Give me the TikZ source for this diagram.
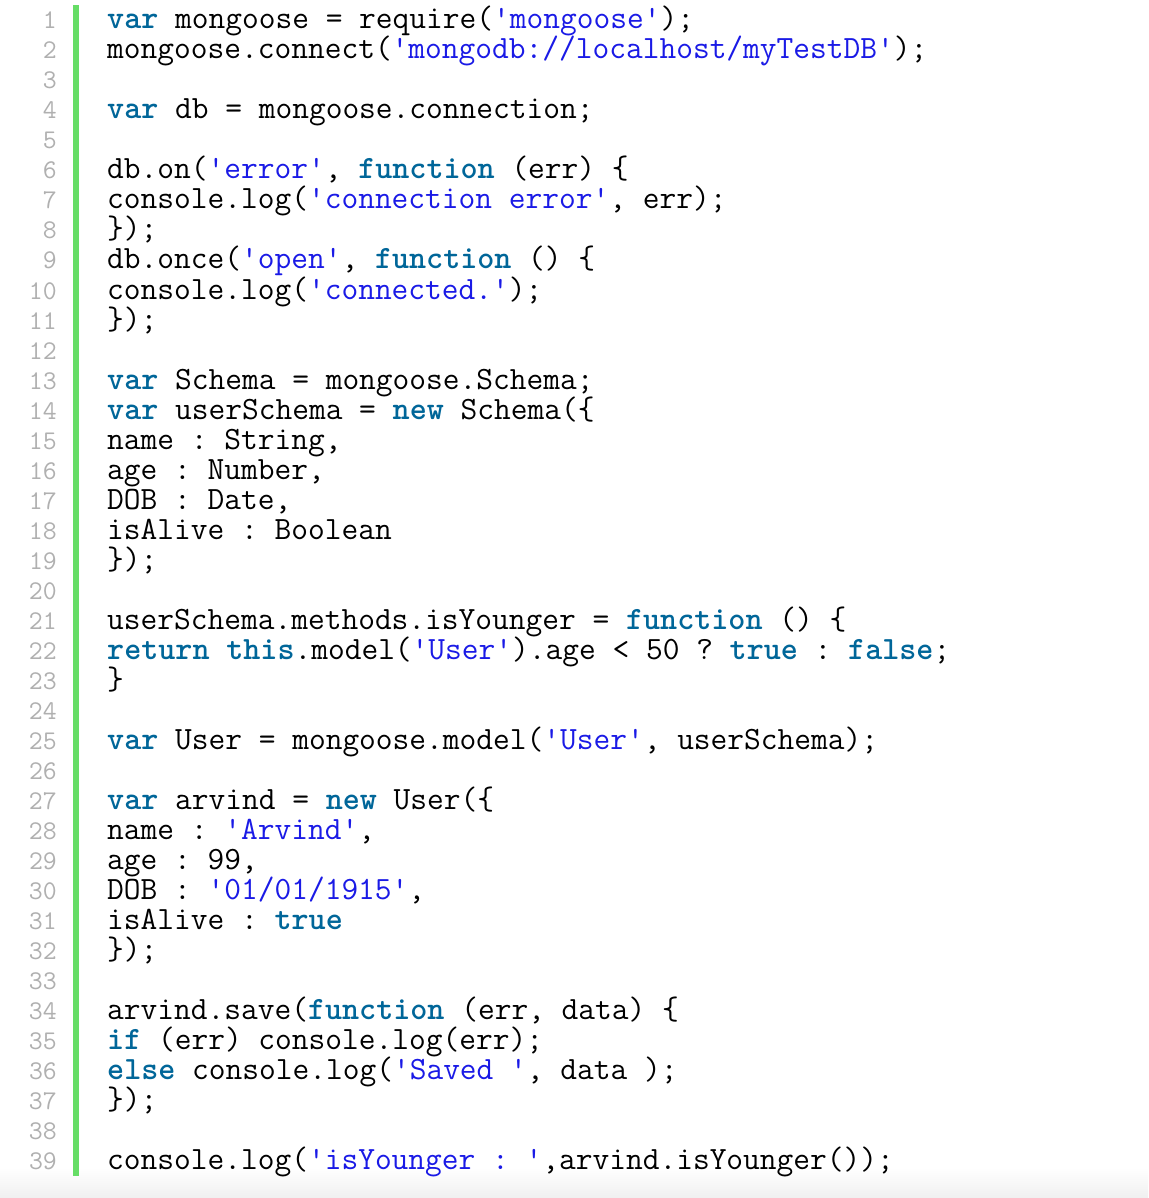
\documentclass[tikz,border=0pt]{standalone}
\usepackage{fontspec}
\frenchspacing
\definecolor{kwc}{HTML}{006699}
\definecolor{stc}{HTML}{1A1AE6}
\definecolor{lnc}{HTML}{B0B0B0}
\definecolor{barc}{HTML}{66DD66}
\newcommand{\kw}[1]{\textbf{\textcolor{kwc}{#1}}}
\newcommand{\st}[1]{\textcolor{stc}{#1}}
\begin{document}
\begin{tikzpicture}[x=1pt,y=1pt,
  code/.style={anchor=base west,inner sep=0,font=\fontsize{32.5}{30}\ttfamily\frenchspacing},
  lnum/.style={anchor=base east,inner sep=0,text=lnc,font=\fontsize{27}{30}\ttfamily}]
\useasboundingbox (0,0) rectangle (1148,-1198);
\fill[white] (0,0) rectangle (1148,-1198);
\shade[top color=white,bottom color=black!6] (0,-1168) rectangle (1148,-1198);
\fill[barc] (73,-5) rectangle (79,-1176);
\foreach \i in {1,...,39}{\node[lnum] (n\i) at (57,{-29-30*(\i-1)}) {\i};}
\newcommand{\cl}[2]{\node[code] (c#1) at (107,{-29-30*(#1-1)}) {#2};}
\cl{1}{\kw{var} mongoose = require(\st{'mongoose'});}
\cl{2}{mongoose.connect(\st{'mongodb://localhost/myTestDB'});}
\cl{4}{\kw{var} db = mongoose.connection;}
\cl{6}{db.on(\st{'error'}, \kw{function} (err) \{}
\cl{7}{console.log(\st{'connection error'}, err);}
\cl{8}{\});}
\cl{9}{db.once(\st{'open'}, \kw{function} () \{}
\cl{10}{console.log(\st{'connected.'});}
\cl{11}{\});}
\cl{13}{\kw{var} Schema = mongoose.Schema;}
\cl{14}{\kw{var} userSchema = \kw{new} Schema(\{}
\cl{15}{name : String,}
\cl{16}{age : Number,}
\cl{17}{DOB : Date,}
\cl{18}{isAlive : Boolean}
\cl{19}{\});}
\cl{21}{userSchema.methods.isYounger = \kw{function} () \{}
\cl{22}{\kw{return} \kw{this}.model(\st{'User'}).age < 50 ? \kw{true} : \kw{false};}
\cl{23}{\}}
\cl{25}{\kw{var} User = mongoose.model(\st{'User'}, userSchema);}
\cl{27}{\kw{var} arvind = \kw{new} User(\{}
\cl{28}{name : \st{'Arvind'},}
\cl{29}{age : 99,}
\cl{30}{DOB : \st{'01/01/1915'},}
\cl{31}{isAlive : \kw{true}}
\cl{32}{\});}
\cl{34}{arvind.save(\kw{function} (err, data) \{}
\cl{35}{\kw{if} (err) console.log(err);}
\cl{36}{\kw{else} console.log(\st{'Saved '}, data );}
\cl{37}{\});}
\cl{39}{console.log(\st{'isYounger : '},arvind.isYounger());}
\end{tikzpicture}
\end{document}
